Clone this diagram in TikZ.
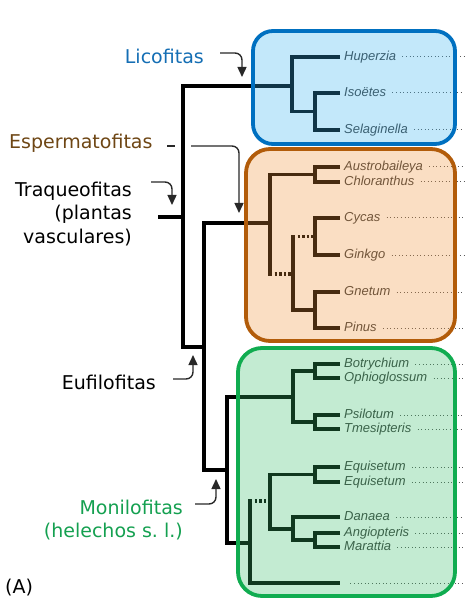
\documentclass[tikz,border=0pt]{standalone}
\usepackage{fontspec}
\setmainfont{DejaVu Sans}
\newfontfamily\spfont{Liberation Sans}
\usetikzlibrary{arrows.meta}
\definecolor{licoB}{RGB}{0,112,192}
\definecolor{licoF}{RGB}{55,178,238}
\definecolor{licoT}{RGB}{20,110,180}
\definecolor{espB}{RGB}{178,92,10}
\definecolor{espF}{RGB}{238,145,55}
\definecolor{espT}{RGB}{110,70,20}
\definecolor{monB}{RGB}{16,172,80}
\definecolor{monF}{RGB}{55,188,105}
\definecolor{monT}{RGB}{20,160,80}
\definecolor{spgray}{RGB}{60,60,60}
\definecolor{dotgray}{RGB}{90,90,90}
\definecolor{arrgray}{RGB}{40,40,40}
\tikzset{
  br/.style={line width=3.2pt, black, line cap=rect, line join=miter},
  brdot/.style={line width=3.2pt, black, dash pattern=on 2.4pt off 2.2pt},
  sp/.style={anchor=west, inner xsep=6pt, inner ysep=0pt, text height=9.5pt, text depth=3pt,
    font=\spfont\itshape\fontsize{13}{13.5}\selectfont, text=spgray},
  dotline/.style={dotgray, line width=1pt, dash pattern=on 1pt off 2.6pt},
  clade/.style={inner sep=0pt, font=\fontsize{19}{23.5}\selectfont},
  arr/.style={arrgray, line width=1.4pt, rounded corners=7pt, -{Triangle[width=9pt,length=10pt]}},
  box/.style={line width=3.8pt, fill opacity=0.3, draw opacity=1},
}
\begin{document}
\begin{tikzpicture}[x=1pt,y=-1pt]
\useasboundingbox (0,0) rectangle (464,609);
\coordinate (R) at (464,0);
% ---------- leaves ----------
\node[sp] (hup) at (338,57) {Huperzia};
\node[sp] (iso) at (338,93) {Isoëtes};
\node[sp] (sel) at (338,130) {Selaginella};
\node[sp] (aus) at (338,167) {Austrobaileya};
\node[sp] (chl) at (338,182) {Chloranthus};
\node[sp] (cyc) at (338,218) {Cycas};
\node[sp] (gin) at (338,255) {Ginkgo};
\node[sp] (gne) at (338,292) {Gnetum};
\node[sp] (pin) at (338,328) {Pinus};
\node[sp] (bot) at (338,364) {Botrychium};
\node[sp] (oph) at (338,378) {Ophioglossum};
\node[sp] (psi) at (338,415) {Psilotum};
\node[sp] (tme) at (338,429) {Tmesipteris};
\node[sp] (eq1) at (338,467) {Equisetum};
\node[sp] (eq2) at (338,482) {Equisetum};
\node[sp] (dan) at (338,517) {Danaea};
\node[sp] (ang) at (338,533) {Angiopteris};
\node[sp] (mar) at (338,547) {Marattia};
\node[sp] (blk) at (338,583) {};
% ---------- internal nodes ----------
\coordinate (trq) at (183,217);
\coordinate (trqs) at (160,217);
\coordinate (lyc) at (292,86);
\coordinate (isoN) at (315,111.5);
\coordinate (euf) at (204,347);
\coordinate (sem) at (270,223);
\coordinate (angN) at (315,174.5);
\coordinate (gymN) at (293,274);
\coordinate (cgN) at (315,236.5);
\coordinate (gpN) at (315,310);
\coordinate (mon) at (227,470);
\coordinate (fernA) at (293,397);
\coordinate (ophN) at (315,371);
\coordinate (psiN) at (315,422);
\coordinate (fernB) at (250,543);
\coordinate (leptN) at (270,501);
\coordinate (eqN) at (315,474.5);
\coordinate (marN) at (293,529);
\coordinate (angpN) at (315,540);
% ---------- tree ----------
\draw[br] (trqs) -- (trq);
\draw[br] (trq) |- (lyc);
\draw[br] (trq) |- (euf);
\draw[br] (lyc) |- (hup.west);
\draw[br] (lyc) |- (isoN);
\draw[br] (isoN) |- (iso.west);
\draw[br] (isoN) |- (sel.west);
\draw[br] (euf) |- (sem);
\draw[br] (euf) |- (mon);
\draw[br] (sem) |- (angN);
\draw[br] (angN) |- (aus.west);
\draw[br] (angN) |- (chl.west);
\draw[br] (sem) -- (sem |- gymN);
\draw[brdot] (sem |- gymN) -- (gymN);
\draw[br] (gymN) -- (gymN |- cgN);
\draw[brdot] (gymN |- cgN) -- (cgN);
\draw[br] (gymN) |- (gpN);
\draw[br] (cgN) |- (cyc.west);
\draw[br] (cgN) |- (gin.west);
\draw[br] (gpN) |- (gne.west);
\draw[br] (gpN) |- (pin.west);
\draw[br] (mon) |- (fernA);
\draw[br] (mon) |- (fernB);
\draw[br] (fernA) |- (ophN);
\draw[br] (fernA) |- (psiN);
\draw[br] (ophN) |- (bot.west);
\draw[br] (ophN) |- (oph.west);
\draw[br] (psiN) |- (psi.west);
\draw[br] (psiN) |- (tme.west);
\draw[br] (fernB) |- (blk.west);
\draw[br] (fernB) -- (fernB |- leptN);
\draw[brdot] (fernB |- leptN) -- (leptN);
\draw[br] (leptN) |- (eqN);
\draw[br] (leptN) |- (marN);
\draw[br] (eqN) |- (eq1.west);
\draw[br] (eqN) |- (eq2.west);
\draw[br] (marN) |- (dan.west);
\draw[br] (marN) |- (angpN);
\draw[br] (angpN) |- (ang.west);
\draw[br] (angpN) |- (mar.west);
% ---------- dotted leaders ----------
\foreach \n in {hup,iso,sel,aus,chl,cyc,gin,gne,pin,bot,oph,psi,tme,eq1,eq2,dan,ang,mar,blk}
  \draw[dotline] (\n.east) -- (\n.east -| R);
% ---------- boxes ----------
\draw[box, draw=licoB, fill=licoF, rounded corners=20pt] (253,31) rectangle (455,144);
\draw[box, draw=espB, fill=espF, rounded corners=24pt] (246,149) rectangle (455,341);
\draw[box, draw=monB, fill=monF, rounded corners=24pt] (238,348) rectangle (455,596);
% ---------- clade labels ----------
\node[clade, text=licoT, anchor=east] (lico) at (204,56) {Licofitas};
\node[clade, text=espT, anchor=west] (esp) at (9,143) {Espermatofitas};
\node[clade, anchor=east, align=right] (traq) at (132,214) {Traqueofitas\\(plantas\\vasculares)};
\node[clade, anchor=east] (eufl) at (156,382) {Eufilofitas};
\node[clade, text=monT, anchor=east, align=right] (moni) at (183,520) {Monilofitas\\(helechos s.\ l.)};
\node[clade, anchor=west] (lblA) at (5,588) {(A)};
% ---------- arrows ----------
\coordinate (licoS) at (220,53);
\coordinate (licoE) at (242,77);
\draw[arr] (licoS) -| (licoE);
\coordinate (espS1) at (167,146);
\coordinate (espS2) at (175,146);
\coordinate (espS3) at (191,146);
\coordinate (espE) at (239,213);
\draw[arrgray, line width=1.4pt] (espS1) -- (espS2);
\draw[arr] (espS3) -| (espE);
\coordinate (traqS) at (151,182);
\coordinate (traqE) at (172,205);
\draw[arr] (traqS) -| (traqE);
\coordinate (eufS) at (173,379);
\coordinate (eufE) at (193,355);
\draw[arr] (eufS) -| (eufE);
\coordinate (monS) at (195,504);
\coordinate (monE) at (216,479);
\draw[arr] (monS) -| (monE);
\end{tikzpicture}
\end{document}
